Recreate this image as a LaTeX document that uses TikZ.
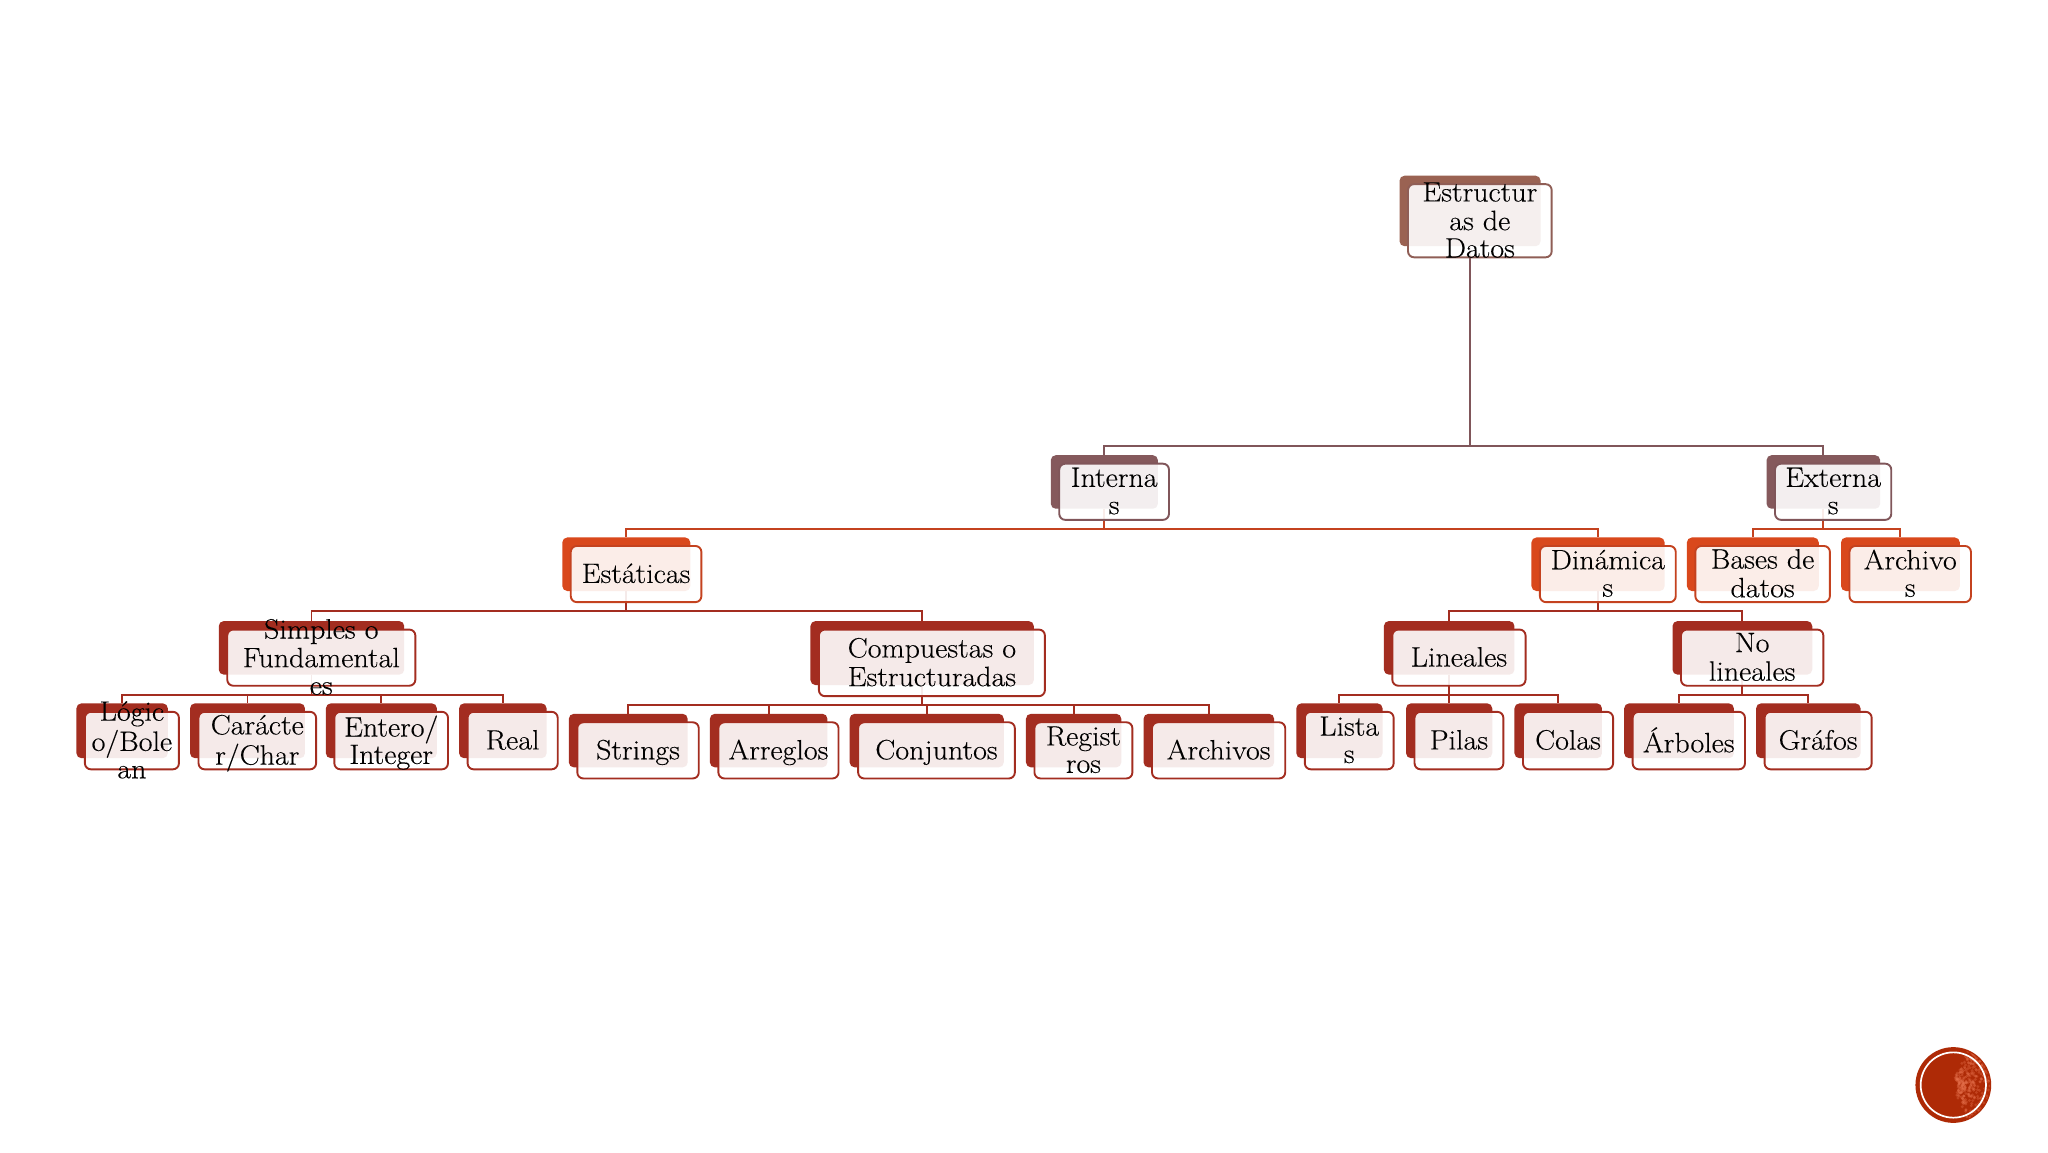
\documentclass[tikz,border=0pt]{standalone}
\usepackage{fontspec}
\setmainfont{Latin Modern Roman}[FakeStretch=1.07,FakeBold=0.25]
\pgfdeclarelayer{bgl}\pgfdeclarelayer{fgl}\pgfsetlayers{bgl,main,fgl}
\definecolor{cRoot}{HTML}{9A6252}
\definecolor{cRootL}{HTML}{8F5E56}
\definecolor{cInt}{HTML}{85595C}
\definecolor{cInl}{HTML}{80565A}
\definecolor{cOra}{HTML}{D9481C}
\definecolor{cOrl}{HTML}{C4421F}
\definecolor{cRed}{HTML}{A32D20}
\definecolor{cDisc}{HTML}{AE2A06}
\definecolor{cSpk}{HTML}{E8734F}
\tikzset{
  x=1.30612pt,y=-1.30612pt,
  frontbox/.style={rounded corners=6pt,line width=1.9pt},
  lbl/.style={inner sep=0pt,outer sep=0pt,align=center,anchor=center,text=black,font=\fontsize{28}{27.4}\selectfont},
  conn/.style={line width=1.9pt}
}
% name x0 y0 x1 y1 colour bordercolour text (x,y of the front rectangle)
\newcommand{\bx}[8]{%
  \begin{pgfonlayer}{bgl}
    \path[fill=#6,rounded corners=5pt] ({#2-6.5},{#3-6.5}) rectangle ({#4-8.5},{#5-8.5}) ;
    \coordinate (#1-n) at ({(#2-6.5+#4-8.5)/2},{#3-6.5});
    \coordinate (#1-s) at ({(#2-6.5+#4-8.5)/2},{#5-8.5});
  \end{pgfonlayer}
  \begin{pgfonlayer}{fgl}
    \path[fill=white,fill opacity=.9,draw=#7,draw opacity=1,frontbox] (#2,#3) rectangle (#4,#5);
    \node[lbl] (#1) at ({(#2+#4)/2},{(#3+#5)/2+2.5}) {\strut #8\strut};
  \end{pgfonlayer}
}
% parent bus-y colour children
\newcommand{\tree}[4]{%
  \foreach \k in {#4}{%
    \draw[conn,draw=#3] (#1-s) -- (#1-s |- 0,#2) -| (\k-n);
  }%
}
\begin{document}
\begin{tikzpicture}
\useasboundingbox (0,0) rectangle (1568,882);
\begin{pgfonlayer}{bgl}
\fill[white] (0,0) rectangle (1568,882);
\end{pgfonlayer}

\bx{root}{1078}{141}{1188}{197}{cRoot}{cRootL}{Estructur\\as de\\Datos}
\bx{int}{811}{355}{895}{398}{cInt}{cInl}{Interna\\s}
\bx{ext}{1359}{355}{1448}{398}{cInt}{cInl}{Externa\\s}
\bx{est}{437}{418}{537}{461}{cOra}{cOrl}{Estáticas}
\bx{din}{1179}{418}{1283}{461}{cOra}{cOrl}{Dinámica\\s}
\bx{bas}{1298}{418}{1401}{461}{cOra}{cOrl}{Bases de\\datos}
\bx{arc}{1416}{418}{1509}{461}{cOra}{cOrl}{Archivo\\s}
\bx{sim}{174}{482}{318}{525}{cRed}{cRed}{Simples o\\Fundamental\\es}
\bx{com}{627}{482}{800}{533}{cRed}{cRed}{Compuestas o\\Estructuradas}
\bx{lin}{1066}{482}{1168}{525}{cRed}{cRed}{Lineales}
\bx{nol}{1287}{482}{1396}{525}{cRed}{cRed}{No\\lineales}
\bx{log}{65}{545}{137}{589}{cRed}{cRed}{Lógic\\o/Bole\\an}
\bx{car}{152}{545}{242}{589}{cRed}{cRed}{Carácte\\r/Char}
\bx{ent}{256}{545}{343}{589}{cRed}{cRed}{Entero/\\Integer}
\bx{rea}{358}{545}{427}{589}{cRed}{cRed}{Real}
\bx{str}{442}{553}{535}{596}{cRed}{cRed}{Strings}
\bx{arr}{550}{553}{642}{596}{cRed}{cRed}{Arreglos}
\bx{cnj}{657}{553}{777}{596}{cRed}{cRed}{Conjuntos}
\bx{reg}{792}{553}{867}{596}{cRed}{cRed}{Regist\\ros}
\bx{arv}{882}{553}{984}{596}{cRed}{cRed}{Archivos}
\bx{lis}{999}{545}{1067}{589}{cRed}{cRed}{Lista\\s}
\bx{pil}{1083}{545}{1151}{589}{cRed}{cRed}{Pilas}
\bx{col}{1166}{545}{1235}{589}{cRed}{cRed}{Colas}
\bx{arb}{1250}{545}{1336}{589}{cRed}{cRed}{Árboles}
\bx{gra}{1351}{545}{1433}{589}{cRed}{cRed}{Gráfos}

\tree{root}{341.5}{cInl}{int,ext}
\tree{int}{405}{cOrl}{est,din}
\tree{ext}{405}{cOrl}{bas,arc}
\tree{est}{468}{cRed}{sim,com}
\tree{din}{468}{cRed}{lin,nol}
\tree{sim}{532}{cRed}{log,car,ent,rea}
\tree{com}{540}{cRed}{str,arr,cnj,reg,arv}
\tree{lin}{532}{cRed}{lis,pil,col}
\tree{nol}{532}{cRed}{arb,gra}

% round ornament
\node[circle,fill=cDisc,minimum size=58*1.30612pt,inner sep=0pt] (disc) at (1495.5,830.7) {};
\begin{scope}
  \clip (1495.5,830.7) circle [radius=28];
  \pgfmathsetseed{7}
  \foreach \i in {1,...,320}{
    \pgfmathsetmacro{\ang}{rnd*130-65}
    \pgfmathsetmacro{\rr}{5+rnd*27}
    \fill[cSpk,opacity=.35] ({1494+\rr*cos(\ang)},{830.7+\rr*sin(\ang)}) circle [radius=1.2];
  }
\end{scope}
\node[circle,draw=white,line width=1.7pt,minimum size=50*1.30612pt,inner sep=0pt] (ring) at (disc) {};
\end{tikzpicture}
\end{document}
